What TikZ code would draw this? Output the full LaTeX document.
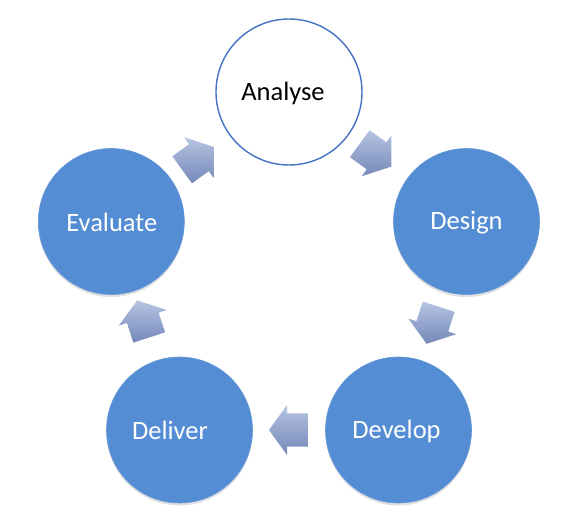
\documentclass[tikz,border=0pt]{standalone}
\usepackage{fontspec}
\setmainfont{Carlito}
\usetikzlibrary{shapes.arrows,calc,shadows}
\definecolor{stepblue}{RGB}{84,141,212}
\definecolor{ringblue}{RGB}{68,114,196}
\definecolor{arrowtop}{RGB}{182,196,226}
\definecolor{arrowbot}{RGB}{116,136,184}
\tikzset{
  stagecircle/.style={circle, minimum size=146pt, inner sep=0pt, fill=stepblue, draw=stepblue!90!white, line width=0.6pt,
     drop shadow={shadow xshift=0pt, shadow yshift=-2.5pt, opacity=0.12, fill=black}},
  firstcircle/.style={circle, minimum size=146pt, inner sep=0pt, fill=white, draw=ringblue, line width=1.4pt},
  stagetext/.style={font=\fontsize{26.5}{30}\selectfont, text=white},
  firsttext/.style={font=\fontsize{26.5}{30}\selectfont, text=black},
  cyclearrow/.style={single arrow, minimum height=39pt, inner xsep=0pt, inner ysep=16.5pt, single arrow head extend=8.5pt,
     single arrow tip angle=108, draw=none, rotate=#1,
     shading=axis, top color=arrowtop, bottom color=arrowbot}
}
\begin{document}
\begin{tikzpicture}[x=1pt,y=-1pt]
\useasboundingbox (0,0) rectangle (572,529);
% circles
\node[firstcircle] (analyse) at (289,92) {};
\node[stagecircle] (design) at (466.5,221.5) {};
\node[stagecircle] (develop) at (398.5,430) {};
\node[stagecircle] (deliver) at (179.5,430) {};
\node[stagecircle] (evaluate) at (111.3,221.5) {};
% labels
\node[firsttext] (tanalyse) at ($(analyse)+(-6,1)$) {Analyse};
\node[stagetext] (tdesign) at ($(design)+(0,1.5)$) {Design};
\node[stagetext] (tdevelop) at ($(develop)+(-2,1)$) {Develop};
\node[stagetext] (tdeliver) at ($(deliver)+(-9.5,0)$) {Deliver};
\node[stagetext] (tevaluate) at ($(evaluate)+(0.5,1)$) {Evaluate};
% arrows
\node[cyclearrow=-36] (a1) at ($(analyse)!0.46!(design)$) {};
\node[cyclearrow=-108] (a2) at ($(design)!0.47!(develop)$) {};
\node[cyclearrow=180] (a3) at ($(develop)!0.475!(deliver)$) {};
\node[cyclearrow=108] (a4) at ($(deliver)!0.505!(evaluate)$) {};
\node[cyclearrow=36] (a5) at ($(evaluate)!0.46!(analyse)$) {};
\end{tikzpicture}
\end{document}
